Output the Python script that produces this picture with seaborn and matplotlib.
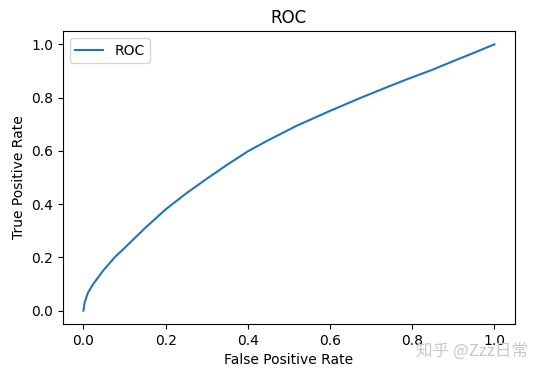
import matplotlib
matplotlib.use('Agg')
import matplotlib.pyplot as plt
import seaborn as sns

# ROC curve points
fpr = [0.0, 0.003, 0.011, 0.024, 0.048, 0.076, 0.10, 0.15, 0.20, 0.25, 0.30, 0.35,
       0.40, 0.45, 0.52, 0.60, 0.676, 0.74, 0.786, 0.85, 0.90, 0.95, 1.0]
tpr = [0.0, 0.03, 0.067, 0.10, 0.15, 0.20, 0.235, 0.31, 0.38, 0.44, 0.495, 0.548,
       0.598, 0.64, 0.695, 0.75, 0.80, 0.84, 0.868, 0.905, 0.937, 0.968, 1.0]

fig = plt.figure(figsize=(5.42, 3.74), dpi=100)
ax = fig.add_axes([0.116, 0.134, 0.834, 0.783])

sns.lineplot(x=fpr, y=tpr, label='ROC', ax=ax, color='#1f77b4', linewidth=1.5)
ax.set_title('ROC')
ax.set_xlabel('False Positive Rate')
ax.set_ylabel('True Positive Rate')
ax.legend(loc='upper left')

# watermark
fig.text(0.975, 0.06, '知乎 @Zzz日常', ha='right', va='center', fontsize=12,
         color='#c8c8c8', family=['Noto Sans CJK SC', 'DejaVu Sans'])

fig.savefig('out.png', dpi=100)
